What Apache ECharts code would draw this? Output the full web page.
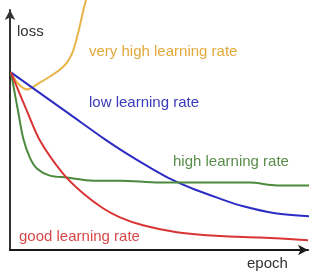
<!DOCTYPE html>
<html>
<head>
<meta charset="utf-8">
<script src="https://cdn.jsdelivr.net/npm/echarts@6/dist/echarts.min.js"></script>
<style>html,body{margin:0;padding:0;background:#fff;}#c{width:321px;height:275px;}</style>
</head>
<body>
<div id="c"></div>
<script>
// x = epoch (0-100), y = loss (0-100)
const veryHighLR = [[0.3,74],[2.7,69.4],[5.7,66.9],[10.1,69.8],[13.4,72.3],[16.8,75.2],[19.1,78.1],[20.8,81.8],[22.1,86.8],[23.5,93.8],[24.8,100.8],[25.8,105.4]];
const lowLR = [[0.3,74],[20,56.6],[32,46],[40,39.5],[47,34.3],[54,29.5],[62,25.2],[70,21.6],[78,18.3],[89,15.3],[100.7,14]];
const highLR = [[0.3,74],[1.5,66],[2.7,57.9],[4.4,46.7],[6.7,38.4],[9.1,33.9],[13.4,31],[19.1,30.2],[27.9,28.9],[36.9,28.9],[50.3,28.1],[67.1,28.1],[80.5,28.1],[89.6,26.9],[102.3,26.9]];
const goodLR = [[0.3,74],[5.7,57.9],[10.1,45.5],[17.8,31.8],[24.5,23.6],[31.2,17.4],[36.9,13.6],[44.6,10.3],[56,7.4],[70.5,5.8],[83.9,5.2],[100,4.1]];
const seriesNames = ['very high learning rate','low learning rate','high learning rate','good learning rate'];
const axisNames = ['loss','epoch'];

const colors = ['#e8b44a','#2c2cc4','#4b8a3c','#d93434'];
const textColors = ['#e2a93c','#3b3bb8','#5a8c4a','#d64848'];
const datasets = [veryHighLR, lowLR, highLR, goodLR];

const chart = echarts.init(document.getElementById('c'));
const hideAxis = {
  axisTick:{show:false}, axisLabel:{show:false}, splitLine:{show:false}
};
chart.setOption({
  animation:false,
  grid:{left:10,right:13,top:10,bottom:25},
  xAxis:Object.assign({type:'value',min:0,max:100,
    axisLine:{show:true,symbol:['none','arrow'],symbolSize:[8,10],lineStyle:{color:'#1a1a1a',width:2}}},hideAxis),
  yAxis:Object.assign({type:'value',min:0,max:100,
    axisLine:{show:true,symbol:['none','arrow'],symbolSize:[8,10],lineStyle:{color:'#333',width:2}}},hideAxis),
  series: datasets.map((d,i)=>({
    name:seriesNames[i], type:'line', data:d, smooth:0.3, showSymbol:false, clip:false,
    lineStyle:{color:colors[i],width:2}
  })),
  graphic:[
    {type:'text',left:17,top:24,style:{text:axisNames[0],fill:'#333',font:'15px "Liberation Sans", Arial, sans-serif'}},
    {type:'text',left:247,top:256,style:{text:axisNames[1],fill:'#333',font:'15px "Liberation Sans", Arial, sans-serif'}},
    {type:'text',left:89,top:44,style:{text:seriesNames[0],fill:textColors[0],font:'15px "Liberation Sans", Arial, sans-serif'}},
    {type:'text',left:89,top:95,style:{text:seriesNames[1],fill:textColors[1],font:'15px "Liberation Sans", Arial, sans-serif'}},
    {type:'text',left:173,top:154,style:{text:seriesNames[2],fill:textColors[2],font:'15px "Liberation Sans", Arial, sans-serif'}},
    {type:'text',left:19,top:229,style:{text:seriesNames[3],fill:textColors[3],font:'15px "Liberation Sans", Arial, sans-serif'}}
  ]
});
</script>
</body>
</html>
